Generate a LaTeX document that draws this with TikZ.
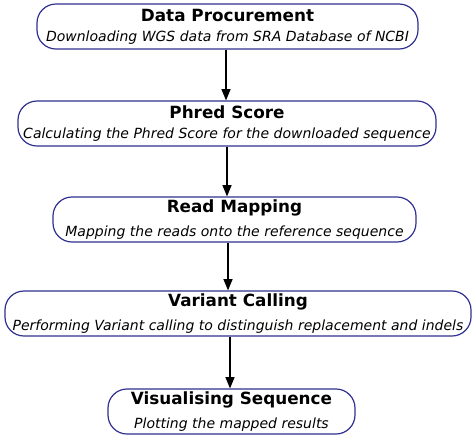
\documentclass[tikz,border=0pt]{standalone}
\usepackage{fontspec}
\setmainfont{DejaVu Sans}
\usetikzlibrary{arrows.meta,positioning}
\definecolor{boxline}{RGB}{48,48,145}
\tikzset{>={Triangle[length=4mm,width=3.2mm]}}
\newcommand{\stagetext}[2]{{\fontsize{16.8}{19}\selectfont\bfseries #1}\\[8pt]{\fontsize{14}{17}\selectfont\itshape #2}}

\begin{document}
\begin{tikzpicture}[x=1pt,y=-1pt,
  stage/.style = {draw=boxline, line width=1.2pt, rounded corners=19pt,
    minimum height=45pt, align=center, inner sep=0pt},
  flow/.style = {->, line width=1.2pt}]
    \useasboundingbox (0,0) rectangle (474,440);
    \node[stage, minimum width=381pt] (proc) at (227.5,26.5) {\stagetext{Data Procurement}{Downloading WGS data from SRA Database of NCBI}};
    \node[stage, minimum width=418pt] (phred) at (227,123.5) {\stagetext{Phred Score}{Calculating the Phred Score for the downloaded sequence}};
    \node[stage, minimum width=363pt] (map) at (234.5,219.5) {\stagetext{Read Mapping}{Mapping the reads onto the reference sequence}};
    \node[stage, minimum width=466pt] (call) at (238,313.5) {\stagetext{Variant Calling}{Performing Variant calling to distinguish replacement and indels}};
    \node[stage, minimum width=247pt] (vis) at (231.5,411.5) {\stagetext{Visualising Sequence}{Plotting the mapped results}};
    % arrows between stages
    \draw[flow] ([xshift=-1.5pt]proc.south) -- ([xshift=-1pt]phred.north);
    \draw[flow] ([xshift=0pt]phred.south) -- ([xshift=-7.5pt]map.north);
    \draw[flow] ([xshift=-6.5pt]map.south) -- ([xshift=-10pt]call.north);
    \draw[flow] ([xshift=-8pt]call.south) -- ([xshift=-1.5pt]vis.north);
\end{tikzpicture}
\end{document}
